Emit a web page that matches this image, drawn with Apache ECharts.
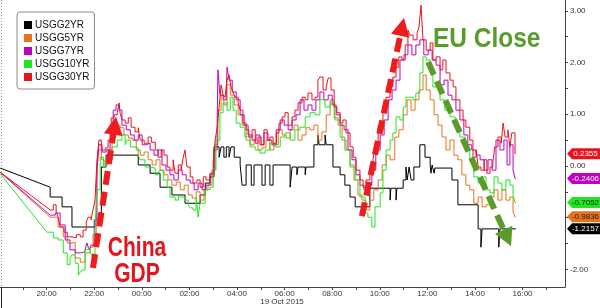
<!DOCTYPE html>
<html><head><meta charset="utf-8">
<script src="https://cdn.jsdelivr.net/npm/echarts@6/dist/echarts.min.js"></script>
<style>html,body{margin:0;padding:0;background:#fff;}#c{width:600px;height:308px;}</style>
</head><body><div id="c"></div>
<script>
// time = minutes after 18:00 on 18 Oct 2015; value = change
const seriesNames = ['USGG2YR','USGG5YR','USGG7YR','USGG10YR','USGG30YR'];
const xLabelMinutes = [120,240,360,480,600,720,840,960,1080,1200,1320];
const xTickMinutes = [60,120,180,240,300,360,420,480,540,600,660,720,780,840,900,960,1020,1080,1140,1200,1260,1320,1380];
const yLabelValues = [-2,0,1,2,3];
const yTickValues = [-2,-1.5,-1,-0.5,0,0.5,1,1.5,2,2.5,3];

const usgg2yr = [[3,-0.04],[129,-0.41],[129,-0.60],[159,-0.79],[184,-1.18],[242,-1.08],[252,-0.91],[258,-0.02],[270,0.21],[351,0.02],[381,-0.14],[406,-0.41],[436,-0.56],[469,-0.72],[507,-0.56],[520,-0.33],[532,-0.21],[542,0.37],[555,0.17],[560,0.37],[567,0.17],[573,0.37],[580,0.17],[585,0.37],[593,0.17],[608,0.02],[613,-0.37],[623,0.02],[636,-0.37],[643,0.02],[663,-0.37],[671,0.02],[683,-0.37],[691,0.02],[734,-0.41],[739,-0.02],[751,-0.17],[754,-0.02],[772,-0.17],[774,-0.02],[794,0.41],[804,0.60],[807,0.41],[822,0.60],[825,0.41],[842,-0.02],[860,-0.17],[872,-0.37],[885,-0.60],[898,-0.79],[935,-0.43],[986,-0.66],[988,-0.43],[1001,-0.66],[1003,-0.43],[1019,-0.27],[1026,-0.02],[1029,-0.27],[1034,-0.02],[1039,-0.27],[1046,-0.02],[1061,0.41],[1074,0.17],[1087,0.02],[1089,-0.14],[1092,0.02],[1097,-0.14],[1099,-0.04],[1142,-0.27],[1157,-0.75],[1208,-1.2157],[1215,-1.57],[1218,-1.2157],[1260,-1.57],[1263,-1.2157],[1303,-1.2157]];

const usgg5yr = [[3,-0.12],[129,-0.99],[142,-0.99],[149,-1.18],[162,-1.37],[172,-1.49],[184,-1.47],[192,-1.78],[205,-1.86],[217,-1.68],[230,-1.57],[237,-1.33],[245,-0.46],[250,0.31],[258,0.12],[265,0.02],[275,0.31],[285,0.60],[295,0.79],[305,0.74],[315,0.60],[326,0.54],[336,0.50],[346,0.31],[356,0.21],[366,0.27],[376,0.12],[386,0.02],[396,0.12],[406,-0.08],[416,-0.17],[426,-0.27],[436,-0.37],[447,-0.31],[457,-0.46],[467,-0.37],[477,-0.56],[487,-0.62],[497,-0.50],[507,-0.66],[517,-0.46],[527,-0.37],[537,-0.08],[545,0.41],[552,1.08],[560,1.37],[567,1.18],[575,1.57],[583,1.37],[593,1.18],[603,0.99],[613,0.79],[623,0.50],[633,0.41],[643,0.50],[653,0.31],[663,0.35],[673,0.50],[683,0.31],[693,0.41],[704,0.70],[714,0.60],[724,0.54],[734,0.70],[744,0.79],[754,0.50],[764,0.60],[774,0.74],[784,0.70],[794,0.79],[804,0.50],[814,0.66],[825,0.99],[835,1.28],[845,0.93],[855,0.79],[865,0.50],[875,0.31],[885,0.02],[895,-0.27],[905,-0.56],[915,-0.66],[925,-0.85],[935,-0.66],[945,-0.46],[956,-0.27],[966,0.02],[976,0.21],[986,0.12],[998,0.56],[1008,0.70],[1019,0.99],[1029,1.28],[1039,1.08],[1049,1.28],[1059,1.47],[1069,1.76],[1077,1.47],[1087,1.28],[1097,0.99],[1107,0.79],[1117,0.56],[1127,0.31],[1137,0.50],[1147,0.21],[1157,0.12],[1167,-0.17],[1177,-0.37],[1187,-0.46],[1197,-0.72],[1208,-0.60],[1218,-0.79],[1228,-0.75],[1238,-0.60],[1248,-0.46],[1258,-0.66],[1268,-0.46],[1278,-0.66],[1288,-0.60],[1296,-0.89],[1301,-0.9836],[1303,-0.9836]];

const usgg7yr = [[3,-0.12],[129,-0.95],[142,-0.91],[154,-1.14],[167,-1.43],[179,-1.62],[192,-1.68],[205,-1.66],[217,-1.62],[222,-1.49],[227,-1.62],[232,-1.53],[240,-1.04],[247,-0.08],[252,0.41],[260,0.27],[270,0.31],[280,0.79],[288,1.08],[295,1.18],[303,1.08],[310,0.79],[321,0.70],[331,0.60],[341,0.50],[351,0.60],[361,0.41],[371,0.44],[381,0.31],[391,0.21],[401,0.31],[411,0.02],[421,-0.08],[431,-0.17],[441,-0.27],[452,-0.08],[462,-0.17],[472,-0.27],[482,-0.33],[492,-0.46],[502,-0.33],[512,-0.46],[522,-0.37],[532,-0.17],[542,0.31],[550,0.79],[552,1.86],[557,1.37],[565,1.28],[573,1.47],[575,1.91],[580,1.66],[588,1.43],[598,1.28],[608,0.99],[618,0.79],[628,0.60],[638,0.50],[648,0.60],[658,0.41],[668,0.64],[678,0.50],[688,0.41],[699,0.70],[709,0.89],[719,0.79],[729,0.70],[739,0.89],[749,0.99],[759,1.28],[769,1.08],[779,1.18],[789,1.08],[799,1.28],[809,1.43],[819,1.28],[830,1.37],[840,1.18],[850,0.99],[860,0.79],[870,0.70],[880,0.31],[890,0.12],[900,-0.17],[910,-0.37],[920,-0.46],[930,-0.37],[940,-0.08],[950,0.31],[961,0.60],[971,0.89],[981,1.28],[991,1.47],[1001,1.66],[1011,2.05],[1021,2.15],[1031,2.34],[1041,2.15],[1051,2.34],[1061,2.44],[1071,2.15],[1082,2.24],[1092,2.05],[1102,1.95],[1112,1.57],[1122,1.66],[1132,1.37],[1142,1.28],[1152,1.08],[1162,0.89],[1172,0.60],[1182,0.41],[1192,0.31],[1203,0.21],[1213,0.12],[1223,-0.08],[1233,0.12],[1243,-0.08],[1253,0.50],[1263,0.31],[1273,0.50],[1281,0.02],[1288,0.41],[1296,-0.08],[1301,-0.2406],[1303,-0.2406]];

const usgg10yr = [[3,-0.15],[121,-1.28],[137,-1.39],[149,-1.43],[162,-1.68],[172,-1.91],[179,-1.78],[184,-1.72],[192,-1.88],[200,-2.11],[205,-2.05],[210,-2.01],[217,-1.62],[225,-1.57],[230,-1.66],[235,-1.76],[242,-1.24],[247,-0.46],[255,0.17],[263,-0.02],[270,0.02],[275,0.12],[285,0.37],[298,0.50],[310,0.60],[318,0.41],[323,0.50],[331,0.37],[343,0.35],[351,0.21],[356,0.12],[368,-0.02],[381,-0.04],[394,-0.17],[401,-0.12],[406,-0.08],[414,-0.27],[424,-0.41],[431,-0.60],[444,-0.66],[452,-0.56],[457,-0.60],[469,-0.66],[477,-0.75],[482,-0.81],[489,-0.85],[497,-0.60],[502,-0.99],[507,-0.72],[520,-0.46],[532,-0.41],[540,-0.08],[547,0.50],[557,1.03],[565,1.22],[575,1.08],[583,1.33],[590,1.08],[598,0.83],[608,0.75],[620,0.56],[633,0.37],[646,0.31],[658,0.25],[671,0.31],[683,0.44],[696,0.37],[709,0.56],[721,0.64],[734,0.50],[746,0.70],[759,0.75],[772,0.95],[784,1.03],[797,0.99],[809,1.28],[822,1.14],[835,1.22],[847,0.89],[860,0.56],[872,0.31],[885,-0.02],[898,-0.27],[910,-0.60],[923,-0.91],[930,-0.99],[940,-1.18],[948,-0.79],[961,-0.52],[968,-0.08],[976,0.31],[986,0.50],[993,0.64],[1001,0.95],[1011,0.89],[1019,1.14],[1026,1.33],[1036,1.33],[1044,1.28],[1051,1.41],[1061,1.80],[1069,2.11],[1077,2.05],[1087,1.80],[1094,1.53],[1102,1.61],[1112,1.28],[1124,1.08],[1137,0.95],[1150,0.75],[1162,0.56],[1175,0.31],[1187,0.12],[1197,-0.21],[1208,-0.33],[1218,-0.21],[1228,-0.46],[1238,-0.52],[1248,-0.21],[1258,-0.33],[1268,-0.46],[1278,-0.27],[1288,-0.37],[1296,-0.56],[1301,-0.7052],[1303,-0.7052]];

const usgg30yr = [[3,-0.12],[129,-0.85],[137,-0.75],[144,-0.89],[149,-0.99],[154,-1.18],[164,-1.28],[172,-1.37],[184,-1.39],[195,-1.33],[205,-1.37],[212,-1.24],[220,-1.08],[225,-0.99],[232,-1.04],[237,-0.85],[242,-0.66],[247,0.12],[252,0.50],[258,0.31],[268,0.35],[275,0.50],[283,0.93],[290,0.99],[298,1.03],[303,1.22],[305,1.03],[310,0.89],[318,0.83],[326,0.93],[333,0.75],[343,0.66],[351,0.74],[356,0.50],[366,0.44],[376,0.56],[384,0.46],[394,0.31],[401,0.17],[409,0.31],[416,0.21],[424,-0.02],[431,-0.08],[439,0.12],[444,-0.14],[452,0.02],[459,-0.08],[464,0.15],[469,0.31],[474,-0.02],[482,-0.21],[489,-0.33],[499,-0.27],[507,-0.41],[515,-0.21],[522,-0.27],[532,-0.14],[540,0.06],[545,0.50],[550,0.75],[555,1.14],[560,1.57],[565,1.37],[570,1.33],[575,1.66],[580,1.76],[585,1.53],[590,1.43],[595,1.33],[603,1.22],[608,1.08],[615,0.83],[623,0.70],[630,0.56],[638,0.70],[646,0.44],[653,0.56],[661,0.41],[668,0.70],[676,0.50],[683,0.56],[691,0.44],[699,0.64],[706,0.83],[714,0.95],[721,1.03],[729,0.79],[739,0.95],[746,1.08],[754,1.22],[764,1.33],[772,1.28],[779,1.41],[789,1.28],[797,1.33],[804,1.66],[809,1.72],[817,1.47],[825,1.53],[830,1.70],[837,1.47],[845,1.14],[852,1.03],[860,0.83],[867,0.89],[875,0.64],[885,0.37],[893,0.17],[900,-0.08],[910,-0.27],[918,-0.41],[925,-0.27],[935,-0.08],[943,0.12],[948,0.44],[956,0.79],[961,0.70],[968,1.08],[976,1.33],[986,1.53],[993,1.72],[1001,1.91],[1008,2.11],[1016,2.05],[1024,2.34],[1031,2.63],[1036,2.53],[1044,2.44],[1054,2.57],[1059,2.69],[1064,3.11],[1069,2.44],[1077,2.24],[1087,2.38],[1094,2.05],[1102,2.11],[1112,1.86],[1119,2.05],[1127,1.80],[1137,1.66],[1145,1.53],[1152,1.28],[1162,1.08],[1170,0.89],[1177,0.75],[1187,0.50],[1195,0.17],[1203,0.31],[1208,-0.02],[1215,-0.08],[1223,0.12],[1230,-0.14],[1238,-0.02],[1245,0.06],[1250,0.37],[1258,0.56],[1266,0.44],[1271,0.83],[1276,0.56],[1283,0.70],[1288,0.37],[1293,0.64],[1301,0.2355],[1303,0.2355]];

// annotations (data coordinates)
const arrowChina = [[237,-1.97],[295,0.95]];
const arrowRise = [[915,-0.97],[1021,2.86]];
const arrowEU = [[1082,2.01],[1291,-1.55]];
const textChina = [348,-1.32];
const textEU = [1094,2.72];

const X_MIN = 0, X_MAX = 1427, Y_MIN = -2.34, Y_MAX = 3.21;

function stepify(pts){
  const out=[pts[0],pts[1]];
  for(let i=2;i<pts.length;i++){ out.push([pts[i][0],pts[i-1][1]]); out.push(pts[i]); }
  return out;
}

const colors = ['#000000','#e8731f','#c000c0','#22e622','#e8141c'];
const badgeText = ['#ffffff','#1a1a1a','#ffffff','#1a1a1a','#ffffff'];
const allData = [usgg2yr,usgg5yr,usgg7yr,usgg10yr,usgg30yr];

const series = allData.map((d,i)=>{
  const last = d[d.length-1][1];
  return {
    name: seriesNames[i], type:'line', data: stepify(d), symbol:'none', showSymbol:false,
    lineStyle:{width:1,color:colors[i]}, itemStyle:{color:colors[i]}, z: 2+i,
    markPoint:{
      silent:true, animation:false,
      symbol:'path://M0,6L6,0L40,0L40,12L6,12Z', symbolSize:[34,11], symbolOffset:[19,0], symbolKeepAspect:false,
      itemStyle:{color:colors[i]},
      label:{show:true, position:'inside', color:badgeText[i], fontSize:8, fontFamily:'Liberation Sans', offset:[1.5,0],
        formatter: ()=> last.toFixed(4)},
      data:[{coord:[X_MAX,last], value:last}]
    }
  };
});

const chart = echarts.init(document.getElementById('c'), null, {renderer:'canvas'});
const option = {
  animation:false,
  backgroundColor:'#ffffff',
  grid:{left:-1, right:35, top:0, bottom:21, containLabel:false, outerBoundsMode:'none'},
  legend:{
    data: seriesNames, orient:'vertical', left:17, top:12, selectedMode:false,
    icon:'rect', itemWidth:8, itemHeight:8, itemGap:1,
    padding:[7,5,6,7], borderColor:'#8c8c8c', borderWidth:1, borderRadius:3, backgroundColor:'#ffffff',
    textStyle:{fontSize:10, lineHeight:12, color:'#111', fontFamily:'Liberation Sans', padding:[0,0,0,-2]}
  },
  xAxis:{
    type:'value', min:X_MIN, max:X_MAX,
    name:'19 Oct 2015', nameLocation:'middle', nameGap:11, nameMoveOverlap:false,
    nameTextStyle:{fontSize:8, color:'#333', fontFamily:'Liberation Sans', verticalAlign:'top'},
    axisLine:{show:true, onZero:false, lineStyle:{color:'#444', width:1}},
    axisTick:{show:true, customValues:xTickMinutes, length:3, lineStyle:{color:'#444'}},
    axisLabel:{customValues:xLabelMinutes, fontSize:8, color:'#333', fontFamily:'Liberation Sans', margin:3,
      formatter:(v)=>{ const h=Math.round(18+v/60)%24; return (h<10?'0':'')+h+':00'; }},
    splitLine:{show:false}
  },
  yAxis:{
    type:'value', position:'right', min:Y_MIN, max:Y_MAX,
    axisLine:{show:true, onZero:false, lineStyle:{color:'#444', width:1}},
    axisTick:{show:true, customValues:yTickValues, length:3, lineStyle:{color:'#444'}},
    axisLabel:{customValues:yLabelValues, fontSize:8, color:'#333', fontFamily:'Liberation Sans', margin:5,
      formatter:(v)=>v.toFixed(2)},
    splitLine:{show:false}
  },
  series: series
};
chart.setOption(option);

function px(p){ return chart.convertToPixel({gridIndex:0}, p); }
function arrow(a, color){
  const s=px(a[0]), e=px(a[1]);
  const dx=e[0]-s[0], dy=e[1]-s[1], L=Math.hypot(dx,dy), ux=dx/L, uy=dy/L;
  const hl=18, hw=9.5;
  const bx=e[0]-ux*hl, by=e[1]-uy*hl;
  return [
    {type:'line', z:100, silent:true, shape:{x1:s[0],y1:s[1],x2:bx+ux*2,y2:by+uy*2},
      style:{stroke:color, lineWidth:6, lineDash:[14,7]}},
    {type:'polygon', z:100, silent:true, shape:{points:[[e[0],e[1]],[bx-uy*hw,by+ux*hw],[bx+uy*hw,by-ux*hw]]},
      style:{fill:color}}
  ];
}
const tc=px(textChina), te=px(textEU);
const bottomY = px([0,Y_MIN])[1];
chart.setOption({graphic:[
  {type:'line', z:1, silent:true, shape:{x1:1.5,y1:0,x2:1.5,y2:bottomY}, style:{stroke:'#9a9a9a', lineWidth:1, lineDash:[1,2]}},
  {type:'line', z:1, silent:true, shape:{x1:1.5,y1:bottomY,x2:1.5,y2:308}, style:{stroke:'#222', lineWidth:1}},
  ...arrow(arrowChina,'#ee1c1c'),
  ...arrow(arrowRise,'#ee1c1c'),
  ...arrow(arrowEU,'#5a9c2c'),
  {type:'text', z:101, silent:true, x:tc[0], y:tc[1]+1, scaleY:1.3, style:{text:'China\nGDP', fill:'#e3141b', font:'bold 21px "Liberation Sans"', align:'center', verticalAlign:'top', lineHeight:20}},
  {type:'text', z:101, silent:true, x:te[0], y:te[1], scaleY:1.15, style:{text:'EU Close', fill:'#5a9c2c', font:'bold 24.5px "Liberation Sans"', align:'left', verticalAlign:'top'}}
]});
</script></body></html>
